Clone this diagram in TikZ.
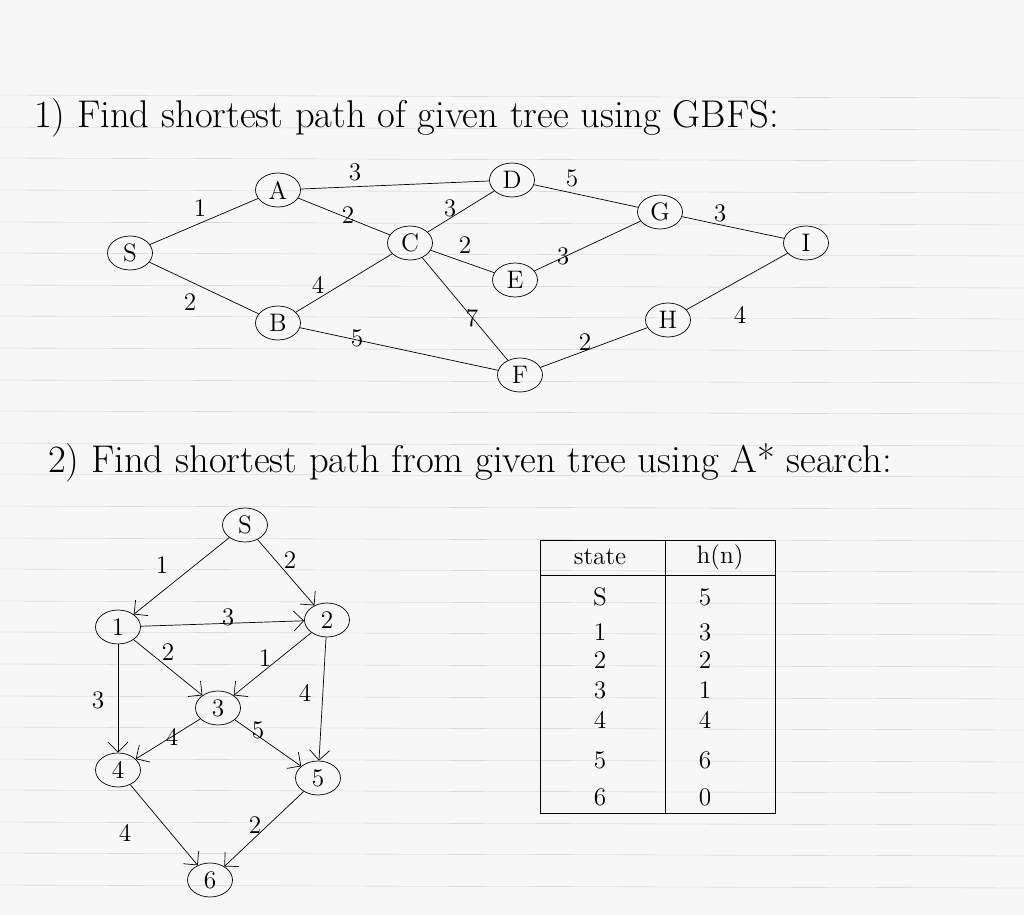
\documentclass[tikz,border=0pt]{standalone}
\usetikzlibrary{arrows.meta,shapes.geometric}
\begin{document}
\begin{tikzpicture}[x=0.02cm,y=-0.02cm,
  nd/.style={draw,ellipse,minimum width=0.9cm,minimum height=0.68cm,inner sep=1pt,font=\Large},
  ed/.style={draw,thin},
  ar/.style={draw,thin,-{Straight Barb[length=2mm]}},
  lb/.style={font=\Large},
  ttl/.style={font=\fontsize{22}{26}\selectfont,anchor=west}]
\fill[white!94!gray] (0,0) rectangle (1024,915);
\useasboundingbox (0,0) rectangle (1024,915);
\foreach \y in {95,127,158,190,222,253,285,316,348,380,411,443,474,506,538,569,601,632,664,696,727,759,790,822,853,885}
  \draw[gray!40,very thin] (0,\y) -- (1024,\y+3);
% part 1
\node[ttl] (t1) at (28,118) {1) Find shortest path of given tree using GBFS:};
\node[nd] (S) at (130,253) {S};
\node[nd] (A) at (278,190) {A};
\node[nd] (D) at (512,180) {D};
\node[nd] (G) at (660,212) {G};
\node[nd] (I) at (806,243) {I};
\node[nd] (C) at (410,243) {C};
\node[nd] (E) at (515,280) {E};
\node[nd] (B) at (278,323) {B};
\node[nd] (H) at (668,320) {H};
\node[nd] (F) at (520,375) {F};
\path[ed] (S)--(A) (S)--(B) (A)--(D) (A)--(C) (C)--(D) (C)--(E) (C)--(F) (B)--(C) (B)--(F) (D)--(G) (E)--(G) (G)--(I) (F)--(H) (H)--(I);
\node[lb] (l1) at (200,208) {1};
\node[lb] (l2) at (355,172) {3};
\node[lb] (l3) at (348,215) {2};
\node[lb] (l4) at (450,208) {3};
\node[lb] (l5) at (572,178) {5};
\node[lb] (l6) at (720,213) {3};
\node[lb] (l7) at (465,245) {2};
\node[lb] (l8) at (563,256) {3};
\node[lb] (l9) at (318,285) {4};
\node[lb] (l10) at (472,318) {7};
\node[lb] (l11) at (357,338) {5};
\node[lb] (l12) at (190,302) {2};
\node[lb] (l13) at (585,342) {2};
\node[lb] (l14) at (740,315) {4};
% part 2
\node[ttl] (t2) at (42,463) {2) Find shortest path from given tree using A* search:};
\node[nd] (s) at (245,525) {S};
\node[nd] (n1) at (118,627) {1};
\node[nd] (n2) at (327,620) {2};
\node[nd] (n3) at (218,708) {3};
\node[nd] (n4) at (118,770) {4};
\node[nd] (n5) at (318,778) {5};
\node[nd] (n6) at (210,880) {6};
\path[ar] (s)--(n1); \path[ar] (s)--(n2); \path[ar] (n1)--(n2); \path[ar] (n1)--(n3);
\path[ar] (n2)--(n3); \path[ar] (n1)--(n4); \path[ar] (n2)--(n5); \path[ar] (n3)--(n4);
\path[ar] (n3)--(n5); \path[ar] (n4)--(n6); \path[ar] (n5)--(n6);
\node[lb] (m1) at (162,565) {1};
\node[lb] (m2) at (290,560) {2};
\node[lb] (m3) at (228,617) {3};
\node[lb] (m4) at (168,652) {2};
\node[lb] (m5) at (265,658) {1};
\node[lb] (m6) at (98,700) {3};
\node[lb] (m7) at (305,693) {4};
\node[lb] (m8) at (172,737) {4};
\node[lb] (m9) at (258,730) {5};
\node[lb] (m10) at (125,833) {4};
\node[lb] (m11) at (255,825) {2};
% table
\draw (540,540) rectangle (775,813);
\draw (665,540) -- (665,813);
\draw (540,575) -- (775,575);
\node[lb] (h1) at (600,557) {state};
\node[lb] (h2) at (720,557) {h(n)};
\foreach \a/\b/\y in {S/5/597,1/3/632,2/2/660,3/1/690,4/4/720,5/6/760,6/0/797}{
  \node[lb] at (600,\y) {\a}; \node[lb] at (705,\y) {\b};}
\end{tikzpicture}
\end{document}
